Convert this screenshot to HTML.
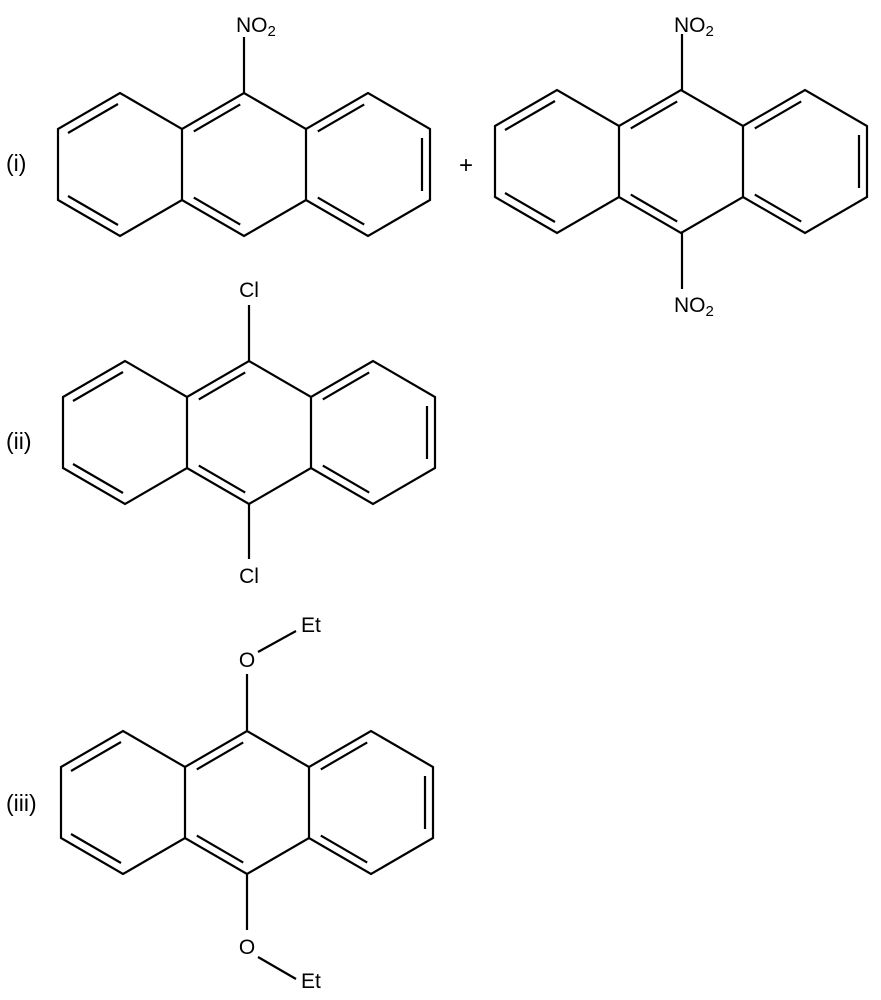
<!DOCTYPE html>
<html><head><meta charset="utf-8"><style>
html,body{margin:0;padding:0;background:#fff;}
svg{display:block;}
text{font-family:"Liberation Sans",Arial,sans-serif;fill:#000;}
</style></head><body>
<svg width="881" height="1000" viewBox="0 0 881 1000" xmlns="http://www.w3.org/2000/svg">
<defs>
<g id="anth" fill="none" stroke="#000" stroke-width="2.2" stroke-linejoin="miter">
<path d="M0,36 L62,0 L124,36 L186,0 L248,36 L310,0 L372,36 L372,107 L310,143 L248,107 L186,143 L124,107 L62,143 L0,107 Z M124,36 L124,107 M248,36 L248,107"/>
<path d="M10,40 L60,11 M10,103 L60,132 M135.8,38.4 L182.2,11.4 M135.8,104.6 L182.2,131.6 M259.8,38.4 L306.2,11.4 M259.8,104.6 L306.2,131.6 M364,45 L364,98"/>
</g>
</defs>
<g stroke="#000" stroke-width="2.2" fill="none">
<use href="#anth" transform="translate(58,93)"/>
<use href="#anth" transform="translate(495,90)"/>
<use href="#anth" transform="translate(63,361)"/>
<use href="#anth" transform="translate(61,731)"/>
<line x1="244" y1="93" x2="244" y2="37"/>
<line x1="682" y1="90" x2="682" y2="34"/>
<line x1="682" y1="233" x2="682" y2="289"/>
<line x1="249" y1="361" x2="249" y2="305"/>
<line x1="249" y1="504" x2="249" y2="559"/>
<line x1="247" y1="731" x2="247" y2="674"/>
<line x1="258" y1="652" x2="296" y2="631"/>
<line x1="247" y1="874" x2="247" y2="930"/>
<line x1="258" y1="957" x2="296" y2="979"/>
</g>
<g font-size="21">
<text x="236" y="32">NO<tspan font-size="15" dy="4">2</tspan></text>
<text x="674" y="32">NO<tspan font-size="15" dy="4">2</tspan></text>
<text x="674" y="312">NO<tspan font-size="15" dy="4">2</tspan></text>
<text x="249" y="297" text-anchor="middle">Cl</text>
<text x="249" y="583" text-anchor="middle">Cl</text>
<text x="247" y="667" text-anchor="middle">O</text>
<text x="301" y="632">Et</text>
<text x="247" y="954" text-anchor="middle">O</text>
<text x="301" y="988">Et</text>
<text x="6" y="171" font-size="23">(i)</text>
<text x="6" y="449" font-size="23">(ii)</text>
<text x="6" y="811" font-size="23">(iii)</text>
<text x="459" y="173" font-size="24">+</text>
</g>
</svg>
</body></html>
